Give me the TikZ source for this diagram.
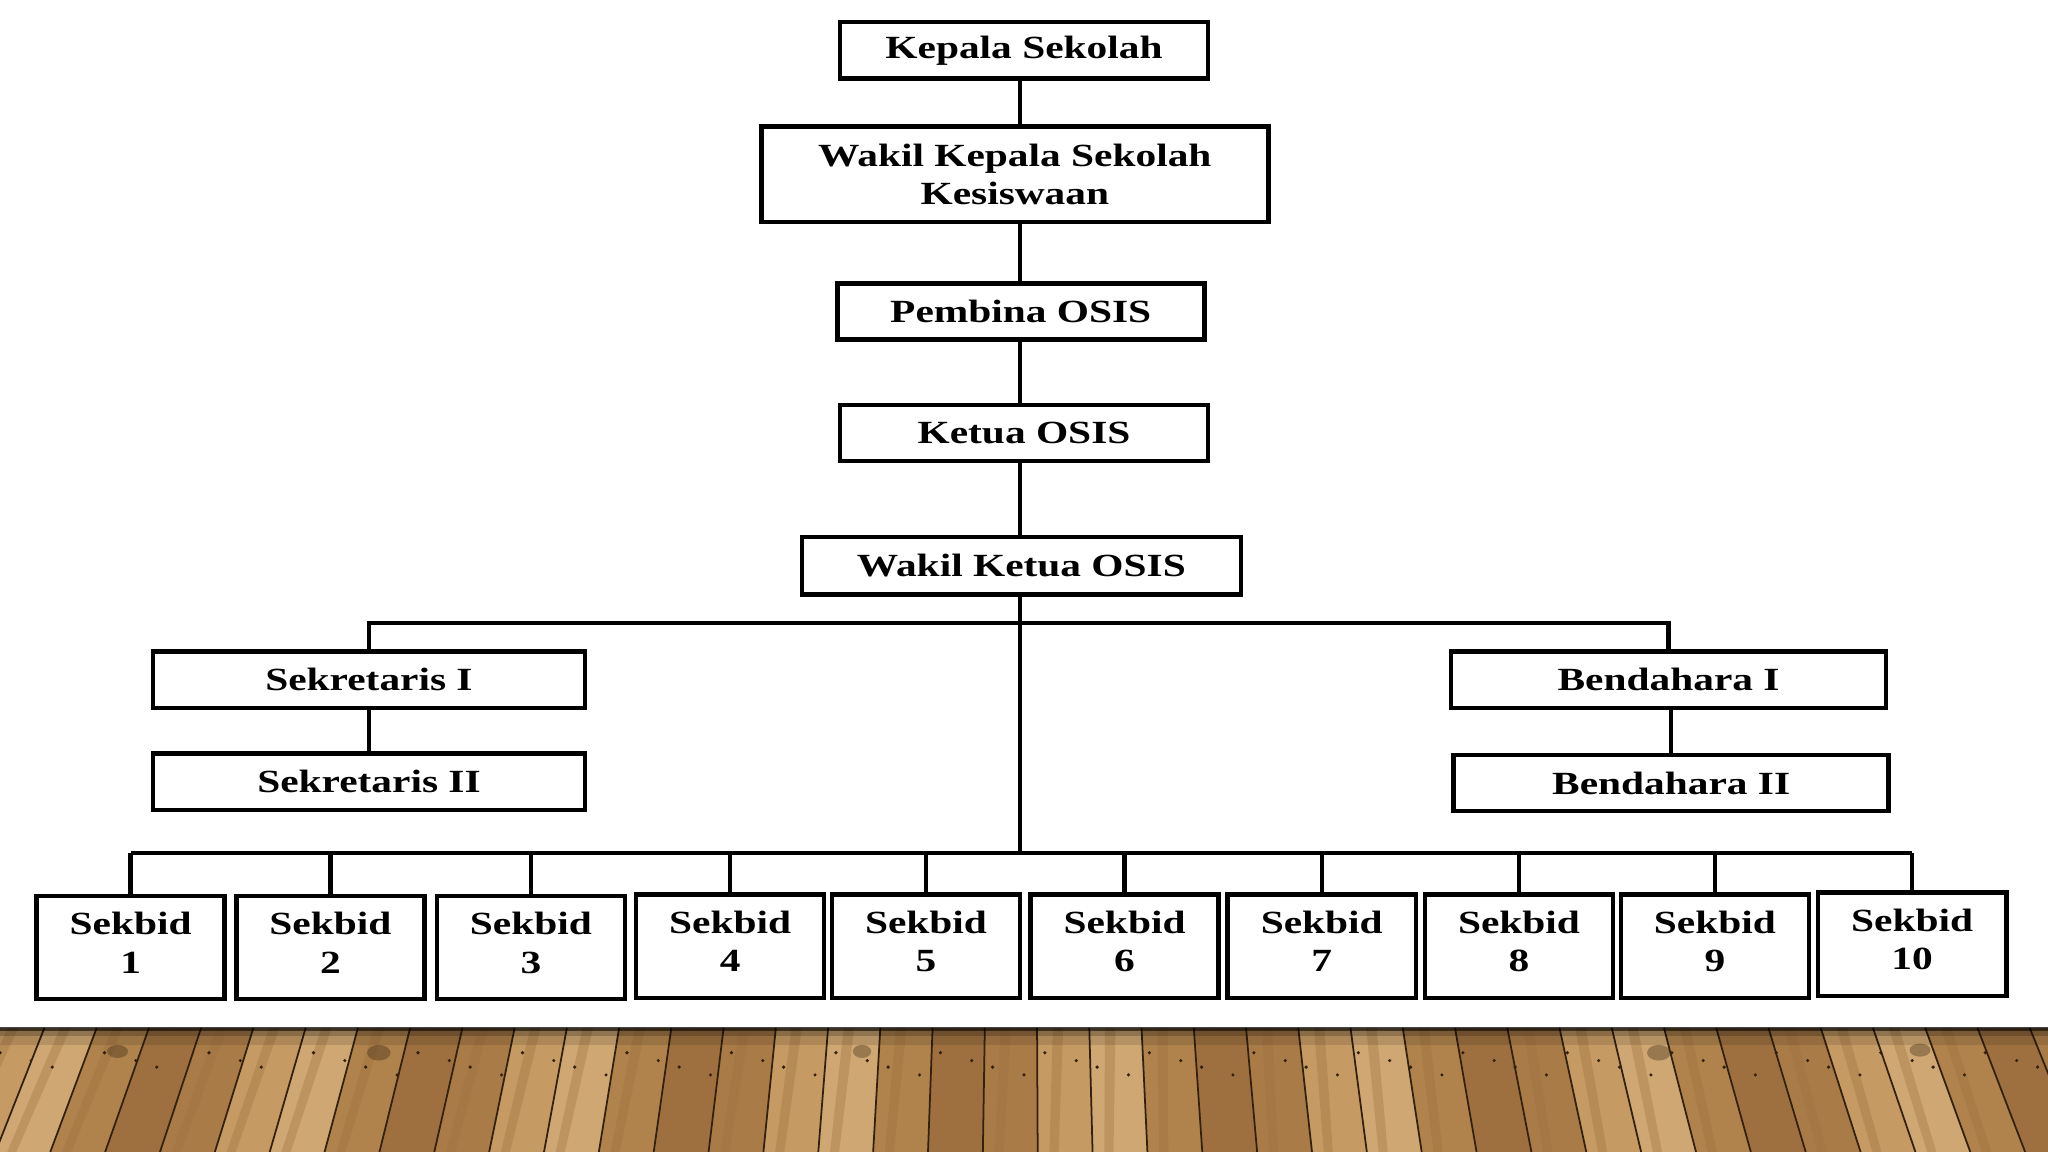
\documentclass[tikz,border=0pt]{standalone}
\usepackage{fontspec}
\setmainfont{Liberation Serif}[FakeStretch=1.28]
\definecolor{wood0}{HTML}{B0834C}
\definecolor{wood1}{HTML}{C59B63}
\definecolor{wood2}{HTML}{9E7040}
\definecolor{wood3}{HTML}{CFA772}
\definecolor{wood4}{HTML}{A97B47}
\definecolor{woodline}{HTML}{33210F}
\begin{document}
\begin{tikzpicture}[x=0.013061cm,y=-0.013061cm,
  box/.style={draw, line width=1.3pt, rectangle, inner sep=0pt, align=center,
    font=\bfseries\fontsize{9.2}{11}\selectfont, minimum height=0.562cm},
  sbox/.style={box, minimum width=1.881cm, minimum height=1.032cm, text depth=0.1cm},
  conn/.style={line width=1.3pt}]
\useasboundingbox (0,0) rectangle (1568,882);
\fill[white] (0,0) rectangle (1568,882);

% wooden floor
\begin{scope}
\clip (0,787) rectangle (1568,882);
\fill[wood0] (0,787) rectangle (1568,882);
\foreach \i in {-3,...,42} {
  \pgfmathsetmacro\xt{\i*40-6}
  \pgfmathsetmacro\xu{\xt+40}
  \pgfmathsetmacro\xb{\xt+(\xt-784)*0.05}
  \pgfmathsetmacro\xc{\xu+(\xu-784)*0.05}
  \pgfmathtruncatemacro\c{mod(\i*7+21,5)}
  \fill[wood\c] (\xt,787) -- (\xu,787) -- (\xc,882) -- (\xb,882) -- cycle;
  \fill[wood2, opacity=0.35] (\xt+12,787) -- (\xt+20,787) -- (\xb+16,882) -- (\xb+9,882) -- cycle;
  \draw[woodline, line width=0.5pt] (\xt,787) -- (\xb,882);
  \pgfmathsetmacro\ny{mod(\i,2)==0 ? 806 : 817}
  \fill[woodline] (\xt+6,\ny) circle (1.4);
  \fill[woodline] (\xt+30,\ny+6) circle (1.3);
}
\fill[woodline, opacity=0.35] (90,805) ellipse (8 and 5);
\fill[woodline, opacity=0.35] (290,806) ellipse (9 and 6);
\fill[woodline, opacity=0.35] (660,805) ellipse (7 and 5);
\fill[woodline, opacity=0.35] (1270,806) ellipse (9 and 6);
\fill[woodline, opacity=0.35] (1470,804) ellipse (8 and 5);
\fill[black, opacity=0.7] (0,786) rectangle (1568,789);
\fill[black, opacity=0.3] (0,789) rectangle (1568,793);
\fill[black, opacity=0.12] (0,793) rectangle (1568,800);
\end{scope}

% upper chain
\node[box, minimum width=3.683cm] (kepala) at (784,38.5) {Kepala Sekolah};
\node[box, minimum width=5.068cm, minimum height=0.953cm] (waka) at (777,133.5) {Wakil Kepala Sekolah\\Kesiswaan};
\node[box, minimum width=3.670cm] (pembina) at (781.5,238.5) {Pembina OSIS};
\node[box, minimum width=3.683cm] (ketua) at (784,331.5) {Ketua OSIS};
\node[box, minimum width=4.388cm, minimum height=0.575cm] (wakil) at (782,433) {Wakil Ketua OSIS};

\node[box, minimum width=4.323cm] (sek1) at (282.5,520.5) {Sekretaris I};
\node[box, minimum width=4.323cm] (sek2) at (282.5,598.5) {Sekretaris II};
\node[box, minimum width=4.349cm] (ben1) at (1277.5,520.5) {Bendahara I};
\node[box, minimum width=4.349cm] (ben2) at (1279.5,599.5) {Bendahara II};

\node[sbox] (sb1) at (100,725.5) {Sekbid\\1};
\node[sbox] (sb2) at (253,725.5) {Sekbid\\2};
\node[sbox] (sb3) at (406.5,725.5) {Sekbid\\3};
\node[sbox] (sb4) at (559,724.5) {Sekbid\\4};
\node[sbox] (sb5) at (709,724.5) {Sekbid\\5};
\node[sbox] (sb6) at (861,724.5) {Sekbid\\6};
\node[sbox] (sb7) at (1012,724.5) {Sekbid\\7};
\node[sbox] (sb8) at (1163,724.5) {Sekbid\\8};
\node[sbox] (sb9) at (1313,724.5) {Sekbid\\9};
\node[sbox] (sb10) at (1464,723) {Sekbid\\10};

\coordinate (trunk) at (781,0);
\coordinate (busA) at (781,477);
\coordinate (busB) at (781,653);

% connectors
\draw[conn] (kepala.south -| trunk) -- (waka.north -| trunk);
\draw[conn] (waka.south -| trunk) -- (pembina.north -| trunk);
\draw[conn] (pembina.south -| trunk) -- (ketua.north -| trunk);
\draw[conn] (ketua.south -| trunk) -- (wakil.north -| trunk);
\draw[conn] (wakil.south -| trunk) -- (busB);
\draw[conn] (sek1.north) -- (sek1.north |- busA) -- (ben1.north |- busA) -- (ben1.north);
\draw[conn] (sek1.south) -- (sek2.north);
\draw[conn] (ben1.south -| ben2.north) -- (ben2.north);
\draw[conn] (sb1.north |- busB) -- (sb10.north |- busB);
\foreach \k in {1,...,10} {
  \draw[conn] (sb\k.north |- busB) -- (sb\k.north);
}
\end{tikzpicture}
\end{document}
